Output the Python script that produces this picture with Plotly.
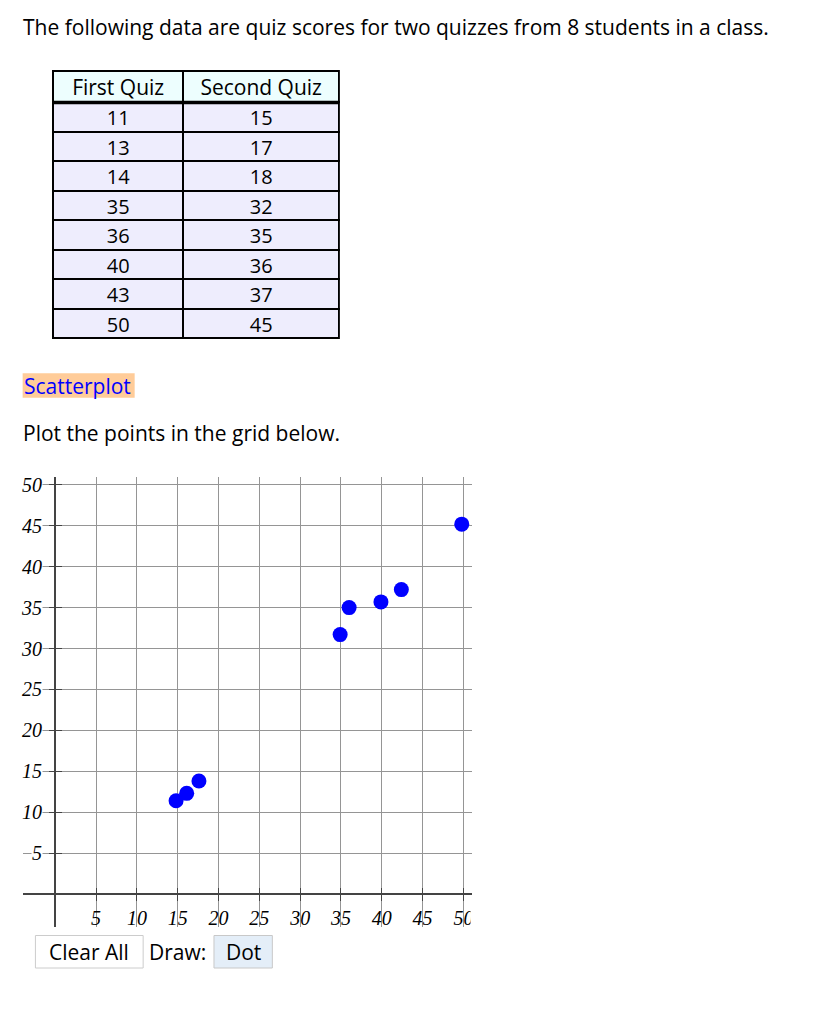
import plotly.graph_objects as go

# ---- page size ----
W, H = 820, 1011

# ---- quiz scores (table) ----
first_quiz = [11, 13, 14, 35, 36, 40, 43, 50]
second_quiz = [15, 17, 18, 32, 35, 36, 37, 45]
table_headers = ["First Quiz", "Second Quiz"]

# ---- dots placed on the grid ----
dot_x = [14.8, 16.1, 17.6, 34.9, 36.0, 39.9, 42.4, 49.8]
dot_y = [11.4, 12.3, 13.8, 31.7, 35.0, 35.7, 37.2, 45.2]

# ---- grid ticks ----
x_ticks = [5, 10, 15, 20, 25, 30, 35, 40, 45, 50]
y_ticks = [5, 10, 15, 20, 25, 30, 35, 40, 45, 50]
axis_range = [-4, 51]

BODY_FONT = "Open Sans"
TICK_FONT = "Liberation Serif"


def px(xp):
    return xp / W


def py(yp):
    return 1 - yp / H


# board placement in pixels
bx0, bx1 = 22.7, 472.7
by0, by1 = 476.7, 926.7
x_dom = [px(bx0), px(bx1)]
y_dom = [py(by1), py(by0)]

# paper position of the data origin (where the axes cross)
x_origin_paper = x_dom[0] + (0 - axis_range[0]) / (axis_range[1] - axis_range[0]) * (x_dom[1] - x_dom[0])
y_origin_paper = y_dom[0] + (0 - axis_range[0]) / (axis_range[1] - axis_range[0]) * (y_dom[1] - y_dom[0])

fig = go.Figure()

# data table
fig.add_trace(go.Table(
    domain=dict(x=[px(53), px(340)], y=[py(345), py(71)]),
    columnwidth=[131, 156],
    header=dict(
        values=table_headers,
        fill_color="#edfefe",
        line=dict(color="black", width=2),
        align="center",
        height=31,
        font=dict(family=BODY_FONT, size=21, color="black"),
    ),
    cells=dict(
        values=[first_quiz, second_quiz],
        fill_color="#eeedfd",
        line=dict(color="black", width=2),
        align="center",
        height=29.5,
        font=dict(family=BODY_FONT, size=20, color="black"),
    ),
))

# plotted dots
fig.add_trace(go.Scatter(
    x=dot_x, y=dot_y, mode="markers",
    marker=dict(color="#0000ff", size=15, line=dict(width=0)),
    hoverinfo="skip", showlegend=False,
    xaxis="x", yaxis="y",
))

grid_color = "#959595"
axis_color = "#444444"

fig.update_layout(
    width=W, height=H,
    margin=dict(l=0, r=0, t=0, b=0),
    paper_bgcolor="white", plot_bgcolor="white",
    showlegend=False,
    xaxis=dict(
        domain=x_dom, range=axis_range, anchor="free", position=y_origin_paper,
        tickvals=x_ticks, ticktext=[str(v) for v in x_ticks],
        ticks="outside", ticklen=6, tickwidth=1, tickcolor=axis_color,
        showgrid=True, gridcolor=grid_color, gridwidth=1,
        zeroline=True, zerolinecolor=axis_color, zerolinewidth=1.5,
        showline=False, fixedrange=True,
        tickfont=dict(family=TICK_FONT, size=20, color="black", style="italic"),
    ),
    xaxis2=dict(
        domain=x_dom, range=axis_range, anchor="free", position=y_origin_paper,
        overlaying="x", tickvals=x_ticks, showticklabels=False,
        ticks="inside", ticklen=6, tickwidth=1, tickcolor=axis_color,
        showgrid=False, zeroline=False, showline=False, fixedrange=True,
    ),
    yaxis=dict(
        domain=y_dom, range=axis_range, anchor="free", position=x_origin_paper,
        tickvals=y_ticks, showticklabels=False,
        ticks="outside", ticklen=6, tickwidth=1, tickcolor=axis_color,
        showgrid=True, gridcolor=grid_color, gridwidth=1,
        zeroline=True, zerolinecolor=axis_color, zerolinewidth=1.5,
        showline=False, fixedrange=True,
    ),
    yaxis2=dict(
        domain=y_dom, range=axis_range, anchor="free", position=x_origin_paper,
        overlaying="y", tickvals=y_ticks, showticklabels=False,
        ticks="inside", ticklen=6, tickwidth=1, tickcolor=axis_color,
        showgrid=False, zeroline=False, showline=False, fixedrange=True,
    ),
)

# invisible helper trace so the inside-tick axes are drawn
fig.add_trace(go.Scatter(x=[None], y=[None], xaxis="x2", yaxis="y2",
                         showlegend=False, hoverinfo="skip"))

annotations = []
shapes = []

# y tick labels on white boxes (they cover the grid lines)
for v in y_ticks:
    annotations.append(dict(
        x=px(43.5), y=v, xref="paper", yref="y", xanchor="right", yanchor="middle",
        text=str(v), showarrow=False, bgcolor="white", borderpad=0,
        font=dict(family=TICK_FONT, size=20, color="black", style="italic"),
    ))

# the board clips whatever sticks out past its right edge
annotations.append(dict(
    x=px(bx1 - 2.0), y=py(914), xref="paper", yref="paper", xanchor="left", yanchor="middle",
    text=" ", showarrow=False, bgcolor="white", width=22, height=28, borderpad=0,
))

# page text
annotations.append(dict(
    x=px(21), y=py(26.5), xref="paper", yref="paper", xanchor="left", yanchor="middle",
    text="The following data are quiz scores for two quizzes from 8 students in a class.",
    showarrow=False, font=dict(family=BODY_FONT, size=21, color="black"),
))

# "Scatterplot" heading on a peach band
shapes.append(dict(type="rect", xref="paper", yref="paper",
                   x0=px(22.7), x1=px(135), y0=py(397.7), y1=py(373.3),
                   fillcolor="#ffcc99", line=dict(width=0), layer="below"))
annotations.append(dict(
    x=px(22.5), y=py(385.5), xref="paper", yref="paper", xanchor="left", yanchor="middle",
    text="Scatterplot", showarrow=False, font=dict(family=BODY_FONT, size=21, color="#0000ff"),
))

annotations.append(dict(
    x=px(21), y=py(433), xref="paper", yref="paper", xanchor="left", yanchor="middle",
    text="Plot the points in the grid below.", showarrow=False,
    font=dict(family=BODY_FONT, size=21, color="black"),
))

# thicker rule under the table header
shapes.append(dict(type="line", xref="paper", yref="paper",
                   x0=px(53), x1=px(340), y0=py(102.5), y1=py(102.5),
                   line=dict(color="black", width=3.5), layer="above"))

# buttons under the board
shapes.append(dict(type="rect", xref="paper", yref="paper",
                   x0=px(35.5), x1=px(143.5), y0=py(968), y1=py(935.5),
                   fillcolor="white", line=dict(color="#cccccc", width=1)))
shapes.append(dict(type="rect", xref="paper", yref="paper",
                   x0=px(214.5), x1=px(273), y0=py(968), y1=py(935.5),
                   fillcolor="#e4eef8", line=dict(color="#c8c8c8", width=1)))
for label, cx in [("Clear All", 89.5), ("Draw:", 178), ("Dot", 243.7)]:
    annotations.append(dict(
        x=px(cx), y=py(951.5), xref="paper", yref="paper", xanchor="center", yanchor="middle",
        text=label, showarrow=False, font=dict(family=BODY_FONT, size=21, color="black"),
    ))

fig.update_layout(annotations=annotations, shapes=shapes)

fig.write_html("out.html")
